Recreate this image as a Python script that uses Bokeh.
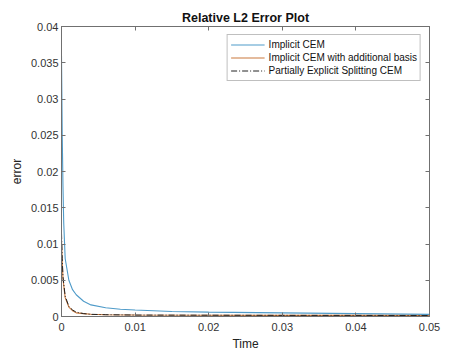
from bokeh.plotting import figure
from bokeh.models import LinearAxis, FixedTicker, Range1d, Legend, LegendItem, Title
from bokeh.embed import file_html
from bokeh.resources import INLINE

# data
t_blue = [0, 0.0001, 0.0002, 0.0003, 0.0005, 0.001, 0.0015, 0.002, 0.003, 0.004, 0.006, 0.008,
          0.01, 0.015, 0.02, 0.03, 0.04, 0.05]
e_blue = [0.036, 0.025, 0.018, 0.013, 0.008, 0.0050, 0.0037, 0.0030, 0.0021, 0.0016, 0.0012, 0.0010,
          0.0009, 0.0007, 0.0006, 0.0005, 0.0004, 0.0003]
t_orange = [0, 0.0001, 0.0002, 0.0005, 0.001, 0.0015, 0.002, 0.003, 0.004, 0.006, 0.01,
            0.02, 0.03, 0.04, 0.05]
e_orange = [0.0105, 0.0075, 0.0052, 0.0026, 0.0013, 0.0008, 0.0005, 0.0004, 0.0003, 0.00025, 0.0002,
            0.00018, 0.00016, 0.00015, 0.00014]
t_black = [0, 0.0001, 0.0002, 0.0005, 0.001, 0.0015, 0.002, 0.003, 0.004, 0.006, 0.01,
           0.02, 0.03, 0.04, 0.05]
e_black = [0.0115, 0.0080, 0.0055, 0.0028, 0.0014, 0.0009, 0.0006, 0.0004, 0.0003, 0.00025, 0.0002,
           0.00018, 0.00016, 0.00015, 0.00014]
x_ticks = [0, 0.01, 0.02, 0.03, 0.04, 0.05]
x_labels = ["0", "0.01", "0.02", "0.03", "0.04", "0.05"]
y_ticks = [0, 0.005, 0.01, 0.015, 0.02, 0.025, 0.03, 0.035, 0.04]
y_labels = ["0", "0.005", "0.01", "0.015", "0.02", "0.025", "0.03", "0.035", "0.04"]
series_names = ["Implicit CEM", "Implicit CEM with additional basis", "Partially Explicit Splitting CEM"]

FONT = "Liberation Sans"
AX = "#707070"
TXT = "#333333"

p = figure(width=474, height=355, output_backend="svg", toolbar_location=None,
           x_range=Range1d(0, 0.05), y_range=Range1d(0, 0.04),
           min_border_left=61, min_border_right=45, min_border_top=26, min_border_bottom=39)
p.background_fill_color = "white"
p.border_fill_color = "white"
p.outline_line_color = AX
p.xgrid.visible = False
p.ygrid.visible = False

p.title = Title(text="Relative L2 Error Plot", align="center", text_font=FONT,
                text_font_size="12.5px", text_font_style="bold", text_color="#111111",
                standoff=3)

def style_axis(ax, labels_on=True):
    ax.axis_line_color = AX
    ax.major_tick_line_color = AX
    ax.minor_tick_line_color = None
    ax.major_tick_in = 4
    ax.major_tick_out = 0
    ax.major_label_text_font = FONT
    ax.major_label_text_font_size = "11px"
    ax.major_label_text_color = TXT
    ax.axis_label_text_font = FONT
    ax.axis_label_text_font_size = "12px"
    ax.axis_label_text_font_style = "normal"
    ax.axis_label_text_color = "#222222"
    if not labels_on:
        ax.major_label_standoff = 0

xa = p.xaxis[0]
xa.ticker = FixedTicker(ticks=x_ticks)
xa.major_label_overrides = {k: v for k, v in zip(x_ticks, x_labels)}
xa.axis_label = "Time"
style_axis(xa)
xa.major_label_standoff = 6
xa.axis_label_standoff = 3

ya = p.yaxis[0]
ya.ticker = FixedTicker(ticks=y_ticks)
ya.major_label_overrides = {k: v for k, v in zip(y_ticks, y_labels)}
ya.axis_label = "error"
style_axis(ya)
ya.major_label_standoff = 3
ya.axis_label_standoff = 4

top = LinearAxis(ticker=FixedTicker(ticks=x_ticks))
top.major_label_overrides = {k: "" for k in x_ticks}
style_axis(top, False)
p.add_layout(top, "above")
right = LinearAxis(ticker=FixedTicker(ticks=y_ticks))
right.major_label_overrides = {k: "" for k in y_ticks}
style_axis(right, False)
p.add_layout(right, "right")

r1 = p.line(t_blue, e_blue, line_color="#4f9bc9", line_width=1.1)
r2 = p.line(t_orange, e_orange, line_color="#c9783c", line_width=1.1)
r3 = p.line(t_black, e_black, line_color="#222222", line_width=1.0, line_dash="6 2 1 2")

legend = Legend(items=[LegendItem(label=series_names[0], renderers=[r1]),
                       LegendItem(label=series_names[1], renderers=[r2]),
                       LegendItem(label=series_names[2], renderers=[r3])],
                location="top_right")
legend.margin = 8
legend.padding = 3
legend.spacing = 0
legend.label_text_font = FONT
legend.label_text_font_size = "10px"
legend.label_text_color = "#111111"
legend.label_height = 13
legend.glyph_height = 13
legend.glyph_width = 34
legend.label_standoff = 4
legend.border_line_color = "#808080"
legend.border_line_width = 1
legend.background_fill_color = "white"
p.add_layout(legend)

open("out.html", "w").write(file_html(p, INLINE))
